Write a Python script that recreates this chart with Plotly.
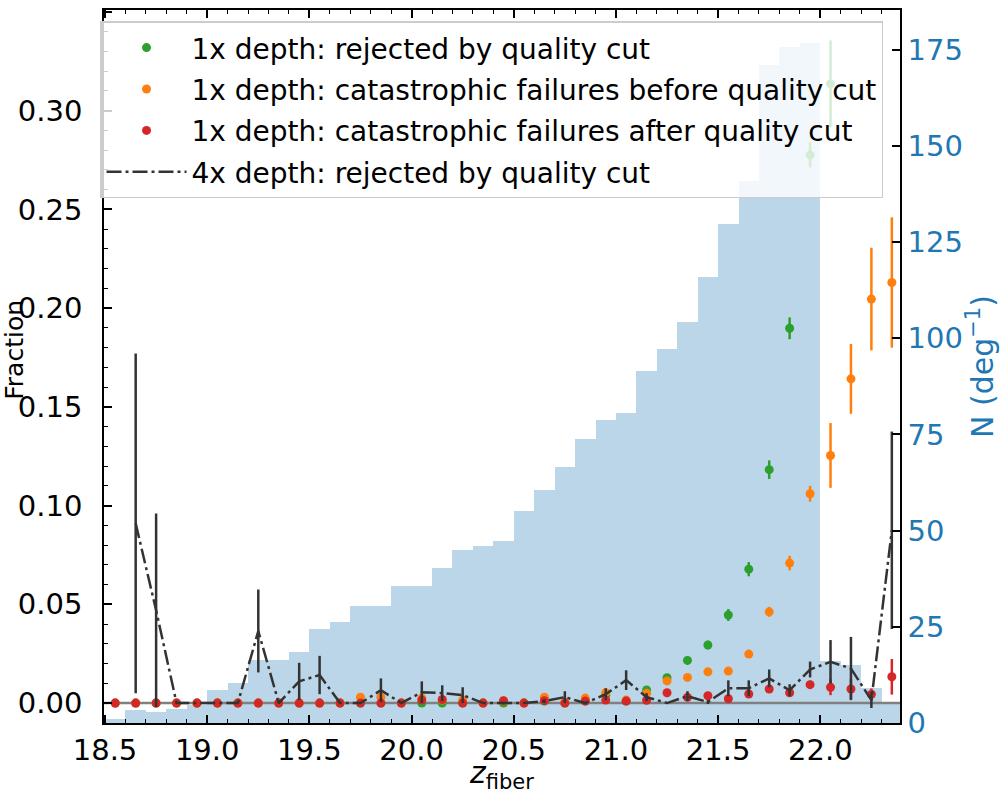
import plotly.graph_objects as go

# Bin centres in z_fiber (bins of width 0.1).
z_centers = [18.55, 18.65, 18.75, 18.85, 18.95, 19.05, 19.15, 19.25, 19.35, 19.45,
             19.55, 19.65, 19.75, 19.85, 19.95, 20.05, 20.15, 20.25, 20.35, 20.45,
             20.55, 20.65, 20.75, 20.85, 20.95, 21.05, 21.15, 21.25, 21.35, 21.45,
             21.55, 21.65, 21.75, 21.85, 21.95, 22.05, 22.15, 22.25, 22.35]

# Surface density per bin, N (deg^-1).
n_density = [1.1, 3.3, 2.8, 3.7, 4.8, 8.6, 10.4, 16.5, 16.3, 18.4,
             24.5, 26.2, 30.3, 30.5, 35.7, 35.7, 40.4, 44.9, 46.0, 47.3,
             55.1, 60.5, 66.6, 73.8, 78.8, 80.5, 91.5, 97.2, 104.2, 115.8,
             129.7, 140.8, 171.0, 175.6, 176.7, 16.0, 15.0, 9.2, 5.4]

# 1x depth: rejected by quality cut
rej_1x = [0, 0, 0, 0, 0, 0, 0, 0, 0, 0,
          0, 0, 0, 0, 0, 0, 0, 0, 0, 0,
          0, 0.001, 0, 0.001, 0.004, 0.001, 0.0066, 0.0128, 0.0216, 0.0294,
          0.0446, 0.0678, 0.1182, 0.1898, 0.2776, 0.3136, None, None, None]
rej_1x_err = [0, 0, 0, 0, 0, 0, 0, 0, 0, 0,
              0, 0, 0, 0, 0, 0, 0, 0, 0, 0,
              0, 0.001, 0, 0.001, 0.002, 0.001, 0.0015, 0.0018, 0.002, 0.0022,
              0.003, 0.0036, 0.0047, 0.0055, 0.0063, 0.022, None, None, None]

# 1x depth: catastrophic failures before quality cut
cat_before = [0, 0, 0, 0, 0, 0, 0, 0, 0, 0,
              0, 0, 0.003, 0.003, 0, 0.0025, 0.0015, 0.0015, 0, 0.001,
              0, 0.003, 0.0005, 0.0025, 0.0052, 0.0015, 0.005, 0.0112, 0.013, 0.0158,
              0.0162, 0.0248, 0.0462, 0.0709, 0.106, 0.1254, 0.1642, 0.2046, 0.213]
cat_before_err = [0, 0, 0, 0, 0, 0, 0, 0, 0, 0,
                  0, 0, 0.002, 0.002, 0, 0.0018, 0.0012, 0.0012, 0, 0.001,
                  0, 0.0015, 0.0005, 0.0012, 0.0015, 0.0008, 0.0012, 0.0015, 0.0015, 0.0015,
                  0.0016, 0.0017, 0.0025, 0.0037, 0.004, 0.0164, 0.0177, 0.026, 0.033]

# 1x depth: catastrophic failures after quality cut
cat_after = [0, 0, 0, 0, 0, 0, 0, 0, 0, 0,
             0, 0, 0, 0, 0, 0.0015, 0.0018, 0, 0, 0.0012,
             0, 0.0012, 0, 0.001, 0.0015, 0.001, 0.0014, 0.0052, 0.0029, 0.0037,
             0.0022, 0.0046, 0.0071, 0.0052, 0.0093, 0.008, 0.0071, 0.0044, 0.0133]
cat_after_err = [0, 0, 0, 0, 0, 0, 0, 0, 0, 0,
                 0, 0, 0, 0, 0, 0.001, 0.001, 0, 0, 0.001,
                 0, 0.001, 0, 0.0008, 0.001, 0.0008, 0.001, 0.0015, 0.001, 0.0012,
                 0.001, 0.0013, 0.0016, 0.0015, 0.002, 0.004, 0.005, 0.003, 0.009]

# 4x depth: rejected by quality cut
rej_4x = [None, 0.091, 0.047, 0, 0, 0, 0, 0.0365, 0, 0.011,
          0.0142, 0, 0, 0.0065, 0, 0.0055, 0.005, 0.004, 0, 0,
          0, 0.001, 0.003, 0, 0.0045, 0.0116, 0.003, 0, 0.0035, 0.0005,
          0.0075, 0.0075, 0.0125, 0.0065, 0.017, 0.0209, 0.0175, 0.0015, 0.0875]
rej_4x_err = [None, 0.086, 0.049, 0, 0, 0, 0, 0.021, 0, 0.0094,
              0.0097, 0, 0, 0.006, 0, 0.0055, 0.004, 0.004, 0, 0,
              0, 0.001, 0.003, 0, 0.003, 0.005, 0.002, 0, 0.0025, 0.001,
              0.004, 0.004, 0.0045, 0.003, 0.004, 0.011, 0.016, 0.004, 0.05]

x_range = [18.495, 22.39]
font = "DejaVu Sans"
blue = "#1f77b4"
tick_size = 29

fig = go.Figure()

# Histogram on the right-hand axis, drawn behind everything.
fig.add_trace(go.Bar(x=z_centers, y=n_density, width=0.1, yaxis="y",
                     marker=dict(color="rgba(31,119,180,0.3)", line=dict(width=0)),
                     showlegend=False, hoverinfo="skip"))

# Zero reference line.
fig.add_trace(go.Scatter(x=x_range, y=[0, 0], mode="lines", yaxis="y2",
                         line=dict(color="gray", width=2.5),
                         showlegend=False, hoverinfo="skip"))

series = [
    ("1x depth: rejected by quality cut", rej_1x, rej_1x_err, "#2ca02c"),
    ("1x depth: catastrophic failures before quality cut", cat_before, cat_before_err, "#ff7f0e"),
    ("1x depth: catastrophic failures after quality cut", cat_after, cat_after_err, "#d62728"),
]
for i, (name, vals, errs, color) in enumerate(series):
    fig.add_trace(go.Scatter(
        x=z_centers, y=vals, name=name, mode="markers", yaxis="y2",
        legendgroup=str(i),
        marker=dict(color=color, size=9),
        error_y=dict(type="data", array=errs, color=color, thickness=2.5, width=0)))

fig.add_trace(go.Scatter(
    x=z_centers, y=rej_4x, name="4x depth: rejected by quality cut",
    mode="lines", yaxis="y2", legendgroup="3",
    line=dict(color="#333333", width=2.5, dash="15px,4px,3px,4px"),
    error_y=dict(type="data", array=rej_4x_err, color="#333333", thickness=2.5, width=0)))

# Left axis label, placed by hand at the far left edge.
fig.add_annotation(text="Fraction", textangle=-90, showarrow=False,
                   xref="paper", yref="paper", x=-0.1135, y=0.523,
                   xanchor="center", yanchor="middle", font=dict(size=25))

fig.update_layout(
    width=1000, height=794,
    margin=dict(l=104, r=100, t=10, b=71),
    plot_bgcolor="white", paper_bgcolor="white",
    font=dict(family=font, size=28, color="black"),
    bargap=0,
    legend=dict(x=-0.005, y=0.984, xanchor="left", yanchor="top",
                bgcolor="rgba(255,255,255,0.8)", bordercolor="#cccccc", borderwidth=1.5,
                font=dict(size=28), tracegroupgap=2, itemwidth=80),
    xaxis=dict(range=x_range, tick0=18.5, dtick=0.5, tickformat=".1f",
               ticks="inside", ticklen=8, tickwidth=1.5, tickcolor="black",
               tickfont=dict(size=tick_size), automargin=False,
               minor=dict(dtick=0.1, ticks="inside", ticklen=4, tickwidth=1.2, tickcolor="black"),
               showline=True, linecolor="black", linewidth=1.5, mirror="ticks",
               showgrid=False, zeroline=False,
               title=dict(text="<i>z</i><sub>fiber</sub>", font=dict(size=30), standoff=19)),
    yaxis=dict(side="right", range=[0, 185.3], dtick=25,
               ticks="inside", ticklen=8, tickwidth=1.5, tickcolor="black",
               tickfont=dict(color=blue, size=tick_size), automargin=False,
               ticklabelstandoff=0,
               showline=True, linecolor="black", linewidth=1.5,
               showgrid=False, zeroline=False,
               title=dict(text="N (deg<sup>\u22121</sup>)", font=dict(color=blue, size=30),
                          standoff=12)),
    yaxis2=dict(side="left", overlaying="y", range=[-0.0101, 0.351], dtick=0.05,
                tickformat=".2f", ticks="inside", ticklen=8, tickwidth=1.5, tickcolor="black",
                tickfont=dict(size=tick_size), automargin=False, ticklabelstandoff=14,
                minor=dict(dtick=0.01, ticks="inside", ticklen=4, tickwidth=1.2, tickcolor="black"),
                showline=True, linecolor="black", linewidth=1.5,
                showgrid=False, zeroline=False),
)

# Drop the page's default body margin so the figure fills the window exactly.
fig.write_html("out.html", config={"displayModeBar": False},
               post_script="document.body.style.margin = '0px';")
